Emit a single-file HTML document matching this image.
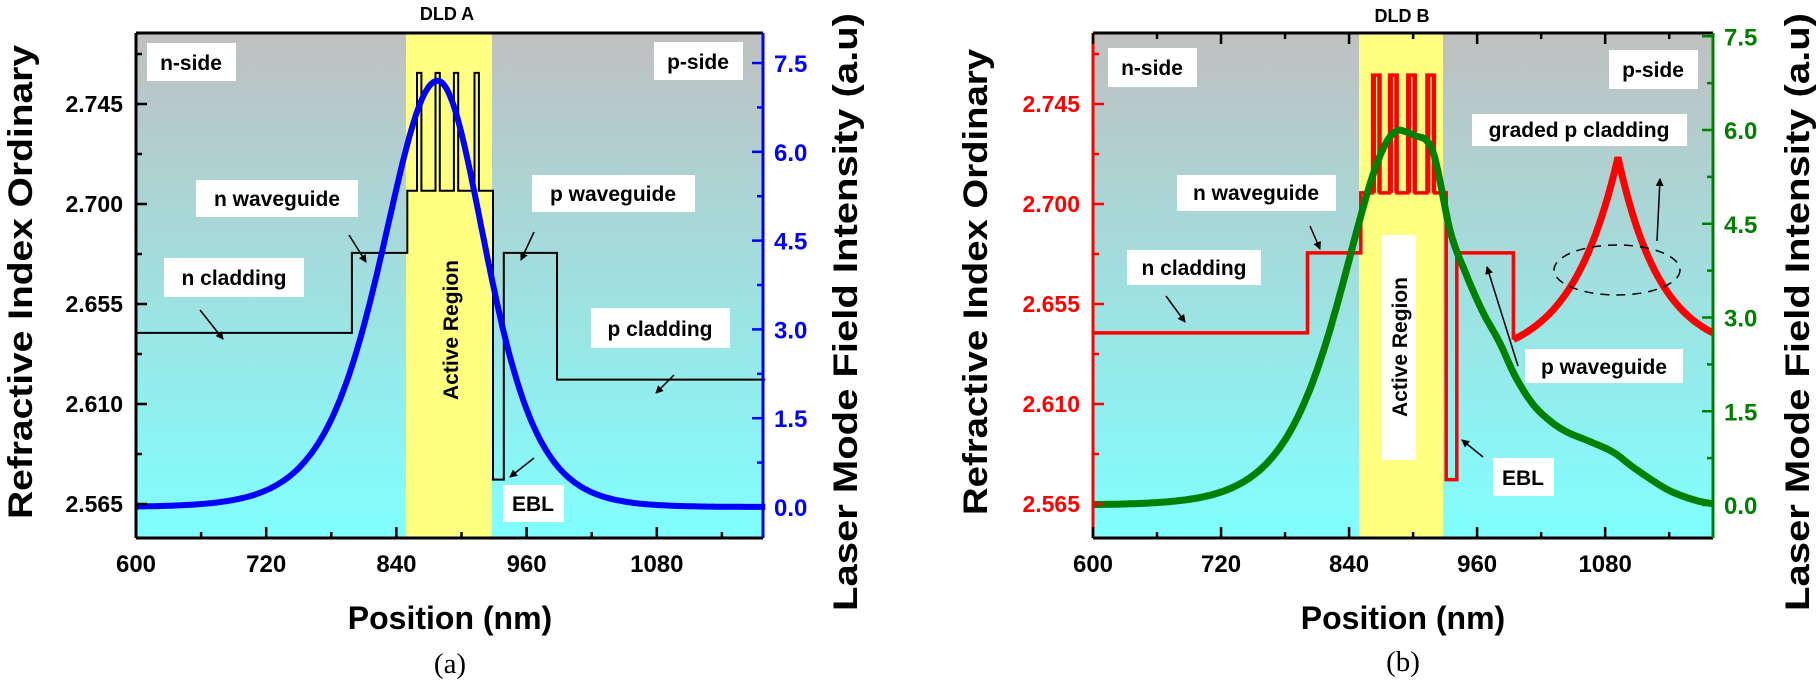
<!DOCTYPE html>
<html><head><meta charset="utf-8"><style>
html,body{margin:0;padding:0;background:#fff;}
svg{display:block;font-family:"Liberation Sans",Arial,sans-serif;font-weight:bold;}
</style></head><body>
<svg id="s" width="1816" height="686" viewBox="0 0 1816 686" xmlns="http://www.w3.org/2000/svg">
<defs>
<linearGradient id="bg" x1="0" y1="0" x2="0" y2="1">
<stop offset="0" stop-color="#c0c0c0"/><stop offset="1" stop-color="#80ffff"/>
</linearGradient>
<marker id="ah" markerWidth="8" markerHeight="8" refX="7" refY="4" orient="auto" markerUnits="userSpaceOnUse"><path d="M0,0 L8,4 L0,8 z" fill="#000"/></marker>
</defs>
<rect x="136" y="33" width="627" height="505" fill="url(#bg)"/>
<rect x="406" y="33" width="86" height="505" fill="#ffff80"/>
<rect x="1093" y="33" width="620" height="505" fill="url(#bg)"/>
<rect x="1359" y="33" width="84" height="505" fill="#ffff80"/>
<rect x="1382" y="235" width="34" height="225" fill="#fff"/>
<g id="dyn"></g>
<g font-size="21" fill="#000">
<rect x="147" y="43" width="89" height="38" fill="#fff"/><text x="191" y="70" text-anchor="middle">n-side</text>
<rect x="196" y="180" width="162" height="37" fill="#fff"/><text x="277" y="206" text-anchor="middle">n waveguide</text>
<rect x="164" y="258" width="140" height="39" fill="#fff"/><text x="234" y="285" text-anchor="middle">n cladding</text>
<rect x="532" y="175" width="163" height="37" fill="#fff"/><text x="613" y="201" text-anchor="middle">p waveguide</text>
<rect x="654" y="42" width="89" height="38" fill="#fff"/><text x="698" y="69" text-anchor="middle">p-side</text>
<rect x="591" y="308" width="139" height="40" fill="#fff"/><text x="660" y="336" text-anchor="middle">p cladding</text>
<rect x="503" y="485" width="61" height="37" fill="#fff"/><text x="533" y="511" text-anchor="middle">EBL</text>
<text transform="translate(458,330) rotate(-90)" text-anchor="middle">Active Region</text>
<rect x="1108" y="48" width="89" height="39" fill="#fff"/><text x="1152" y="75" text-anchor="middle">n-side</text>
<rect x="1177" y="175" width="159" height="36" fill="#fff"/><text x="1256" y="200" text-anchor="middle">n waveguide</text>
<rect x="1127" y="250" width="134" height="35" fill="#fff"/><text x="1194" y="275" text-anchor="middle">n cladding</text>
<rect x="1472" y="114" width="215" height="32" fill="#fff"/><text x="1579" y="137" text-anchor="middle">graded p cladding</text>
<rect x="1609" y="50" width="89" height="39" fill="#fff"/><text x="1653" y="77" text-anchor="middle">p-side</text>
<rect x="1525" y="349" width="158" height="34" fill="#fff"/><text x="1604" y="374" text-anchor="middle">p waveguide</text>
<rect x="1493" y="458" width="61" height="38" fill="#fff"/><text x="1523" y="485" text-anchor="middle">EBL</text>
<text transform="translate(1407,347) rotate(-90)" text-anchor="middle">Active Region</text>
</g>
<g stroke="#000" stroke-width="1.5" marker-end="url(#ah)" fill="none">
<line x1="200" y1="310" x2="223" y2="339"/>
<line x1="349" y1="235" x2="366" y2="262"/>
<line x1="534" y1="232" x2="521" y2="260"/>
<line x1="674" y1="375" x2="656" y2="393"/>
<line x1="534" y1="458" x2="510" y2="477"/>
<line x1="1166" y1="296" x2="1185" y2="322"/>
<line x1="1310" y1="226" x2="1320" y2="249"/>
<line x1="1518" y1="366" x2="1487" y2="267"/>
<line x1="1483" y1="457" x2="1462" y2="440"/>
<line x1="1657" y1="241" x2="1660" y2="179"/>
</g>
<ellipse cx="1617" cy="270" rx="63" ry="25" fill="none" stroke="#000" stroke-width="1.5" stroke-dasharray="9,7"/>
<g id="axes"></g>
<g fill="#000">
<text x="447" y="20" font-size="18" text-anchor="middle">DLD A</text>
<text x="1402" y="22" font-size="18" text-anchor="middle">DLD B</text>
<text x="450" y="629" font-size="32" text-anchor="middle">Position (nm)</text>
<text x="1403" y="629" font-size="32" text-anchor="middle">Position (nm)</text>
<text transform="translate(32,282) rotate(-90)" font-size="34" text-anchor="middle" textLength="474" lengthAdjust="spacingAndGlyphs">Refractive Index Ordinary</text>
<text transform="translate(987,282) rotate(-90)" font-size="34" text-anchor="middle" textLength="466" lengthAdjust="spacingAndGlyphs">Refractive Index Ordinary</text>
<text transform="translate(857,312) rotate(-90)" font-size="34" text-anchor="middle" textLength="598" lengthAdjust="spacingAndGlyphs">Laser Mode Field Intensity (a.u)</text>
<text transform="translate(1809,312) rotate(-90)" font-size="34" text-anchor="middle" textLength="598" lengthAdjust="spacingAndGlyphs">Laser Mode Field Intensity (a.u)</text>
</g>
<g font-family="'Liberation Serif',serif" font-weight="normal" font-size="29" fill="#000">
<text x="450" y="673" text-anchor="middle">(a)</text>
<text x="1403" y="671" text-anchor="middle">(b)</text>
</g>
</svg>
<script>
(function(){
var NS="http://www.w3.org/2000/svg";
var dyn=document.getElementById('dyn'), axes=document.getElementById('axes');
function el(p,tag,at,txt){var e=document.createElementNS(NS,tag);for(var k in at)e.setAttribute(k,at[k]);if(txt!=null)e.textContent=txt;p.appendChild(e);return e;}
function Y(n){return 504-(n-2.565)/0.045*100;}
function XA(x){return 136+(x-600)*1.085;}
function XB(x){return 1093+(x-600)*1.067;}
function path(pts,X,Yf){return pts.map(function(p,i){return (i?'L':'M')+X(p[0]).toFixed(1)+','+Yf(p[1]).toFixed(1);}).join(' ');}
function sech2(d,w){var c=Math.cosh(d/w);return 1/(c*c);}
var a=[[600,2.642],[799,2.642],[799,2.678],[850,2.678],[850,2.706]];
[859,876,893,912].forEach(function(s){a.push([s,2.706],[s,2.759],[s+4,2.759],[s+4,2.706]);});
a.push([929,2.706],[929,2.576],[939,2.576],[939,2.678],[988,2.678],[988,2.621],[1180,2.621]);
el(dyn,'path',{d:path(a,XA,Y),fill:'none',stroke:'#000','stroke-width':2});
var bp=[];for(var x=600;x<=1180;x+=2){var w=x<878?68.6:60;bp.push([x,7.2*sech2(x-878,w)]);}
el(dyn,'path',{d:path(bp,XA,function(v){return 507-v*59.2;}),fill:'none',stroke:'#0000ff','stroke-width':6});
var b=[[600,2.642],[801,2.642],[801,2.678],[851,2.678],[851,2.705]];
[862,878,895,913].forEach(function(s){b.push([s,2.705],[s,2.758],[s+1.5,2.758],[s+1.5,2.705],[s+1.5,2.758],[s+6,2.758],[s+6,2.705],[s+6,2.758],[s+7,2.758],[s+7,2.705]);});
b.push([931,2.705],[931,2.576],[941,2.576],[941,2.678],[994,2.678],[994,2.639]);
el(dyn,'path',{d:path(b,XB,Y),fill:'none',stroke:'#ff0000','stroke-width':3.5});
function f(t){return (Math.exp(2.2*t)-1)/(Math.exp(2.2)-1);}
var g=[];for(x=994;x<=1092;x+=1)g.push([x,2.639+0.082*f((x-994)/98)]);
for(x=1092;x<=1181;x+=1)g.push([x,2.642+0.079*f((1181-x)/89)]);
el(dyn,'path',{d:path(g,XB,Y),fill:'none',stroke:'#ff0000','stroke-width':7});
var rp=[[888,6.0],[900,5.92],[918,5.68],[935,4.37],[950,3.68],[965,3.1],[981,2.6],[996,2.05],[1012,1.62],[1028,1.35],[1044,1.17],[1065,1.02],[1087,0.85],[1105,0.62],[1122,0.42],[1138,0.25],[1153,0.14],[1168,0.06],[1181,0.02]];
var gp=[];for(x=600;x<888;x+=2)gp.push([x,6.0*sech2(x-888,71)]);
for(var i=0;i<rp.length-1;i++){var p0=rp[Math.max(0,i-1)],p1=rp[i],p2=rp[i+1],p3=rp[Math.min(rp.length-1,i+2)];
for(var t=0;t<1;t+=0.1){var t2=t*t,t3=t2*t;
var xx=0.5*((2*p1[0])+(-p0[0]+p2[0])*t+(2*p0[0]-5*p1[0]+4*p2[0]-p3[0])*t2+(-p0[0]+3*p1[0]-3*p2[0]+p3[0])*t3);
var yy=0.5*((2*p1[1])+(-p0[1]+p2[1])*t+(2*p0[1]-5*p1[1]+4*p2[1]-p3[1])*t2+(-p0[1]+3*p1[1]-3*p2[1]+p3[1])*t3);
gp.push([xx,yy]);}}
gp.push(rp[rp.length-1]);
el(dyn,'path',{d:path(gp,XB,function(v){return 505-v*62.5;}),fill:'none',stroke:'#008000','stroke-width':7});
function frame(x0,x1,X,lc,rc,rz,rs,topTicks){
 var y0=33,y1=538;
 el(axes,'line',{x1:x0,y1:y0,x2:x1,y2:y0,stroke:'#000','stroke-width':3});
 el(axes,'line',{x1:x0,y1:y1,x2:x1,y2:y1,stroke:'#000','stroke-width':3});
 el(axes,'line',{x1:x0,y1:y0,x2:x0,y2:y1,stroke:lc,'stroke-width':3});
 el(axes,'line',{x1:x1,y1:y0,x2:x1,y2:y1,stroke:rc,'stroke-width':3});
 for(var v=600;v<=1180;v+=60){var xx=X(v),L=(v%120==0)?11:6;
  el(axes,'line',{x1:xx,y1:y1,x2:xx,y2:y1-L,stroke:'#000','stroke-width':2.5});
  if(topTicks)el(axes,'line',{x1:xx,y1:y0,x2:xx,y2:y0+L,stroke:'#000','stroke-width':2.5});
  if(v%120==0)el(axes,'text',{x:xx,y:572,'font-size':24,'text-anchor':'middle',fill:'#000'},String(v));}
 for(var k=0;k<=9;k++){var n=2.565+k*0.0225,yy=Y(n);if(yy<y0)break;var L=(k%2==0)?11:6;
  el(axes,'line',{x1:x0,y1:yy,x2:x0+L,y2:yy,stroke:lc,'stroke-width':2.5});
  if(k%2==0)el(axes,'text',{x:x0-13,y:yy+8,'font-size':23,'text-anchor':'end',fill:lc},n.toFixed(3));}
 for(k=0;k<=10;k++){var iv=k*0.75,yy=rz-iv*rs;if(yy<y0)break;var L=(k%2==0)?11:6;
  el(axes,'line',{x1:x1,y1:yy,x2:x1-L,y2:yy,stroke:rc,'stroke-width':2.5});
  if(k%2==0)el(axes,'text',{x:x1+11,y:yy+9,'font-size':24,'text-anchor':'start',fill:rc},iv.toFixed(1));}
}
frame(136,763,XA,'#000','#0000ff',507,59.2,false);
frame(1093,1713,XB,'#ff0000','#008000',505,62.5,true);
})();
</script>
</body></html>
